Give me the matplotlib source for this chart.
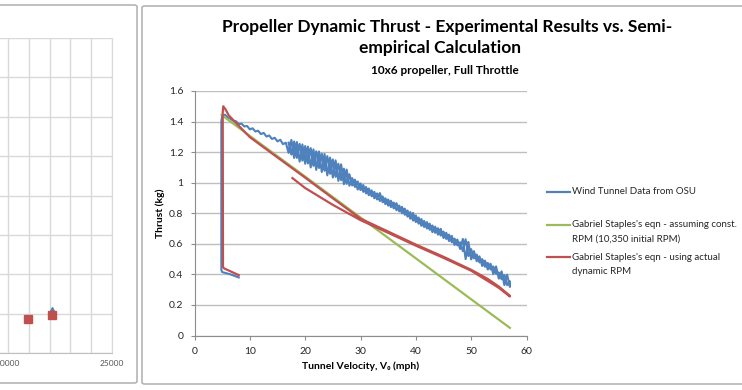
import matplotlib
matplotlib.use("Agg")
import matplotlib.pyplot as plt
from matplotlib.patches import FancyBboxPatch
from matplotlib.lines import Line2D

plt.rcParams["font.family"] = ["Lato", "DejaVu Sans"]

BLUE = "#4F81BD"
RED = "#C0504D"
GREEN = "#9BBB59"
GRID = "#BEBEBE"
AXIS = "#8C8C8C"
TXT = "#262626"

# ---- wind tunnel data (OSU)
# low throttle bit + jump to full throttle
osu_start_v = [8.0, 6.5, 5.0, 4.85, 4.85, 5.0, 5.5]
osu_start_t = [0.38, 0.40, 0.415, 0.43, 1.40, 1.44, 1.445]
# run up from 6 to 57 mph
osu_up_v = [6.0, 6.5, 7.0, 7.5, 8.0, 8.5, 9.0, 9.5, 10.0, 10.5, 11.0, 11.5,
            12.0, 12.5, 13.0, 13.5, 14.0, 14.5, 15.0, 15.5, 16.0, 16.5,
            17.0, 17.5, 18.0, 18.5, 19.0, 19.5, 20.0, 20.5, 21.0, 21.5, 22.0,
            22.5, 23.0, 23.5, 24.0, 24.5, 25.0, 25.5, 26.0, 26.5, 27.0, 27.5,
            28.0,
            28.5, 29.0, 29.5, 30.0, 30.5, 31.0, 31.5, 32.0, 32.5, 33.0, 33.5,
            34.0, 34.5, 35.0, 35.5, 36.0, 36.5, 37.0, 37.5, 38.0, 38.5, 39.0,
            39.5, 40.0, 40.5, 41.0, 41.5, 42.0, 42.5, 43.0, 43.5, 44.0, 44.5,
            45.0, 45.5, 46.0, 46.5, 47.0, 47.5, 48.0, 48.5, 49.0, 49.5, 50.0,
            50.5, 51.0, 51.5, 52.0, 52.5, 53.0, 53.5, 54.0, 54.5, 55.0, 55.5,
            56.0, 56.5, 57.0]
osu_up_t = [1.428, 1.418, 1.405, 1.402, 1.384, 1.386, 1.368, 1.371, 1.349,
            1.356, 1.335, 1.340, 1.318, 1.326, 1.302, 1.309, 1.286, 1.294,
            1.270, 1.281, 1.252, 1.262,
            1.195, 1.280, 1.162, 1.266, 1.138, 1.250, 1.124, 1.236, 1.100,
            1.218, 1.084, 1.204, 1.070, 1.188, 1.048, 1.164, 1.034, 1.146,
            1.012, 1.120, 0.990, 1.086, 0.980,
            1.030, 0.972, 1.008, 0.952, 0.985, 0.930, 0.962, 0.912, 0.940,
            0.890, 0.932, 0.872, 0.898, 0.850, 0.882, 0.832, 0.866, 0.812,
            0.842, 0.790, 0.818, 0.764, 0.802, 0.742, 0.772, 0.718, 0.750,
            0.700, 0.732, 0.676, 0.712, 0.660, 0.698, 0.638, 0.672, 0.618,
            0.652, 0.592, 0.628, 0.566, 0.632, 0.500, 0.612, 0.498, 0.552,
            0.486, 0.518, 0.455, 0.490, 0.432, 0.470, 0.402, 0.452, 0.372,
            0.420, 0.330, 0.398, 0.318]
# run back down from 57 to 17 mph
osu_down_v = [57.0, 56.5, 56.0, 55.5, 55.0, 54.5, 54.0, 53.5, 53.0, 52.5,
              52.0, 51.5, 51.0, 50.5, 50.0, 49.5, 49.0, 48.5, 48.0, 47.5,
              47.0, 46.5, 46.0, 45.5, 45.0, 44.5, 44.0, 43.5, 43.0, 42.5,
              42.0, 41.5, 41.0, 40.5, 40.0, 39.5, 39.0, 38.5, 38.0, 37.5,
              37.0, 36.5, 36.0, 35.5, 35.0, 34.5, 34.0, 33.5, 33.0, 32.5,
              32.0, 31.5, 31.0, 30.5, 30.0, 29.5, 29.0, 28.5,
              28.0, 27.5, 27.0, 26.5, 26.0, 25.5, 25.0, 24.5, 24.0, 23.5,
              23.0, 22.5, 22.0, 21.5, 21.0, 20.5, 20.0, 19.5, 19.0, 18.5,
              18.0, 17.5, 17.0]
osu_down_t = [0.355, 0.330, 0.396, 0.368, 0.412, 0.404, 0.452, 0.432, 0.475,
              0.450, 0.500, 0.478, 0.530, 0.505, 0.565, 0.520, 0.630, 0.552,
              0.610, 0.590, 0.634, 0.610, 0.660, 0.632, 0.680, 0.654, 0.702,
              0.672, 0.720, 0.692, 0.742, 0.710, 0.762, 0.732, 0.786, 0.752,
              0.808, 0.778, 0.830, 0.800, 0.850, 0.820, 0.870, 0.840, 0.890,
              0.860, 0.910, 0.880, 0.930, 0.898, 0.950, 0.918, 0.972, 0.940,
              0.995, 0.955, 1.020, 0.982,
              1.055, 0.992, 1.092, 1.016, 1.124, 1.038, 1.152, 1.058, 1.174,
              1.078, 1.190, 1.096, 1.206, 1.110, 1.226, 1.126, 1.240, 1.144,
              1.254, 1.162, 1.270, 1.184, 1.262]

# ---- semi-empirical, constant RPM
const_v = [4.9, 10, 20, 30, 40, 50, 57]
const_thrust = [1.443, 1.306, 1.040, 0.772, 0.505, 0.237, 0.05]

# ---- semi-empirical, actual dynamic RPM
dyn_v = [8.0, 5.3, 5.15, 5.1, 5.2, 5.6, 6.2, 7.0, 10, 15, 20, 25, 30, 35, 40,
         45, 50, 53, 55, 57, 57, 55, 50, 45, 40, 35, 30, 25, 20, 17.7]
dyn_thrust = [0.395, 0.44, 0.45, 1.46, 1.50, 1.48, 1.44, 1.41, 1.298, 1.165,
              1.033, 0.898, 0.765, 0.68, 0.595, 0.515, 0.43, 0.37, 0.32, 0.26,
              0.255, 0.312, 0.424, 0.508, 0.588, 0.672, 0.755, 0.855, 0.965,
              1.03]

# ---- partial neighbouring chart on the left
rpm_x = [20950, 22100]
rpm_red = [0.172, 0.194]
rpm_blue = [22100]
rpm_blue_y = [0.212]

legend_labels = [["Wind Tunnel Data from OSU"],
                 ["Gabriel Staples's eqn - assuming const.", "RPM (10,350 initial RPM)"],
                 ["Gabriel Staples's eqn - using actual", "dynamic RPM"]]

W, H = 742, 390
fig = plt.figure(figsize=(W / 100, H / 100), dpi=100)


def fx(px):
    return px / W


def fy(py):
    return 1 - py / H


# chart frames (behind the axes)
for x0, x1, y0, y1 in [(-20, 137, 5, 383), (142, 762, 6, 384)]:
    fig.patches.append(FancyBboxPatch((fx(x0), fy(y1)), fx(x1 - x0), fy(y0) - fy(y1),
                                      boxstyle="round,pad=0,rounding_size=0.004",
                                      transform=fig.transFigure, fc="white",
                                      ec="#B5B5B5", lw=1.2, zorder=-5))

# left (cut off) chart
axl = fig.add_axes([fx(-96), fy(353), fx(208), fy(38) - fy(353)])
axl.patch.set_alpha(0)
axl.set_xlim(15000, 25000)
axl.set_ylim(0, 1.6)
axl.set_xticks([20000, 25000])
axl.set_xticklabels(["20000", "25000"])
axl.set_xticks(range(15000, 25001, 1000), minor=True)
axl.set_yticks([i * 0.2 for i in range(9)])
axl.tick_params(axis="x", which="both", length=0, labelsize=6, labelcolor="#555555", pad=5)
axl.tick_params(axis="y", length=0, labelleft=False)
axl.grid(True, axis="both", which="both", color="#D9D9D9", lw=1.0)
axl.set_axisbelow(True)
for s in ["top", "left"]:
    axl.spines[s].set_visible(False)
axl.spines["right"].set_color("#D9D9D9")
axl.spines["bottom"].set_color("#BFBFBF")
axl.plot(rpm_blue, rpm_blue_y, ls="none", marker="^", ms=5.5, color=BLUE)
axl.plot(rpm_x, rpm_red, ls="none", marker="s", ms=5.5, color=RED)

# main chart
ax = fig.add_axes([fx(194.5), fy(335.5), fx(526.5) - fx(194.5), fy(91) - fy(335.5)])
ax.patch.set_alpha(0)
ax.plot(osu_start_v + osu_up_v + osu_down_v, osu_start_t + osu_up_t + osu_down_t,
        color=BLUE, lw=1.5, solid_joinstyle="round", zorder=3)
ax.plot(const_v, const_thrust, color=GREEN, lw=1.6, zorder=4)
ax.plot(dyn_v, dyn_thrust, color=RED, lw=1.6, solid_joinstyle="round", zorder=5)

ax.set_xlim(0, 60)
ax.set_ylim(0, 1.6)
ax.set_xticks(range(0, 61, 10))
ax.set_yticks([0, 0.2, 0.4, 0.6, 0.8, 1.0, 1.2, 1.4, 1.6])
ax.set_yticklabels(["0", "0.2", "0.4", "0.6", "0.8", "1", "1.2", "1.4", "1.6"])
ax.grid(True, axis="y", color=GRID, lw=1.0)
ax.set_axisbelow(True)
for s in ["top", "right"]:
    ax.spines[s].set_visible(False)
for s in ["left", "bottom"]:
    ax.spines[s].set_color(AXIS)
    ax.spines[s].set_linewidth(0.8)
ax.tick_params(direction="out", length=3, width=0.8, color=AXIS,
               labelsize=7.5, labelcolor=TXT, pad=5)

ax.set_xlabel("Tunnel Velocity, V\u2080 (mph)", fontsize=7.5, fontweight="bold",
              color="black", labelpad=4)
ax.set_ylabel("Thrust (kg)", fontsize=7.5, fontweight="bold", color="black",
              labelpad=3)

fig.text(fx(447), fy(27), "Propeller Dynamic Thrust - Experimental Results vs. Semi-",
         ha="center", va="center", fontsize=12.5, fontweight="bold", color="black")
fig.text(fx(440), fy(48), "empirical Calculation",
         ha="center", va="center", fontsize=12.5, fontweight="bold", color="black")
fig.text(fx(445), fy(70), "10x6 propeller, Full Throttle",
         ha="center", va="center", fontsize=8.5, fontweight="bold", color="black")

# legend, Excel style: key line level with the first text line
entry_y = [192, 225, 257]
for color, lines, y in zip((BLUE, GREEN, RED), legend_labels, entry_y):
    fig.add_artist(Line2D([fx(547), fx(570)], [fy(y), fy(y)], color=color, lw=1.6,
                          transform=fig.transFigure))
    for i, line in enumerate(lines):
        fig.text(fx(572), fy(y + 14 * i), line, ha="left", va="center",
                 fontsize=7, color=TXT)

fig.savefig("out.png", dpi=100, facecolor="white")
